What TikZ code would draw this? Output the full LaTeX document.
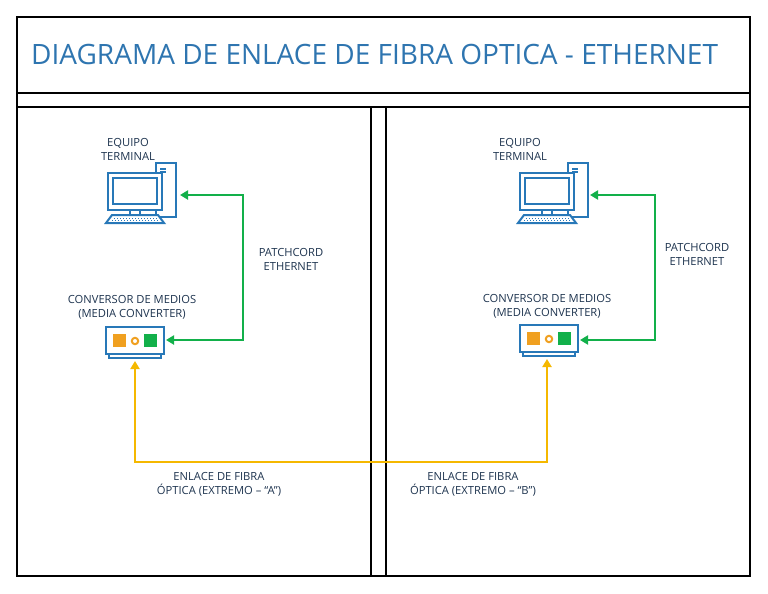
\documentclass[tikz,border=0pt]{standalone}
\usepackage{fontspec}
\setmainfont{Open Sans}
\usetikzlibrary{arrows.meta}
\definecolor{ttl}{HTML}{2E75B0}
\definecolor{txt}{HTML}{1F3550}
\definecolor{ico}{HTML}{2878B8}
\definecolor{grn}{HTML}{12B04A}
\definecolor{ylw}{HTML}{F5B800}
\definecolor{org}{HTML}{F0A020}
\tikzset{x=1pt,y=-1pt,
 lbl/.style={font=\fontsize{11.2}{14}\selectfont,text=txt,align=center,inner sep=0},
 gline/.style={draw=grn,line width=2.5pt,{Triangle[length=8pt,width=9pt]}-{Triangle[length=8pt,width=9pt]}},
 yline/.style={draw=ylw,line width=2.5pt,{Triangle[length=8pt,width=9pt]}-{Triangle[length=8pt,width=9pt]}},
 frame/.style={draw=black,line width=1.6pt}}
\newcommand{\pcicon}[2]{%
 \begin{scope}[shift={(#1,#2)}]
  \draw[ico,line width=2pt,fill=white] (48,0) rectangle (68,54);
  \draw[ico,line width=1.2pt] (52,6)--(58,6) (52,9)--(58,9);
  \draw[ico,line width=2pt,fill=white] (0,10) rectangle (54,47);
  \draw[ico,line width=1.4pt] (5,15) rectangle (49,41);
  \draw[ico,line width=2pt] (22,47)--(22,52) (32,47)--(32,52);
  \draw[ico,line width=2pt,fill=white] (4,52)--(50,52)--(56,60)--(-2,60)--cycle;
  \draw[ico,line width=1pt,dotted] (6,55)--(49,55) (4,57.5)--(52,57.5);
 \end{scope}}
\newcommand{\mcicon}[2]{%
 \begin{scope}[shift={(#1,#2)}]
  \draw[ico,line width=2pt,fill=white] (0,0) rectangle (58,27);
  \draw[ico,line width=2pt] (3,27)--(3,31)--(55,31)--(55,27);
  \fill[org] (7,7) rectangle (20,20);
  \draw[org,line width=2pt] (29,14) circle (3.2pt);
  \fill[grn] (38,7) rectangle (51,20);
 \end{scope}}
\begin{document}
\begin{tikzpicture}
\useasboundingbox (0,0) rectangle (768,594);
\fill[white] (0,0) rectangle (768,594);
\draw[frame] (17,17) rectangle (750,576);
\draw[frame] (17,93)--(750,93) (17,107)--(750,107);
\draw[frame] (371,107)--(371,576) (386,107)--(386,576);
\node[anchor=west,text=ttl,font=\fontsize{28}{32}\selectfont,inner sep=0] (title) at (31,54) {DIAGRAMA DE ENLACE DE FIBRA OPTICA - ETHERNET};
% left
\pcicon{108}{163}
\coordinate (pcA) at (180,195);
\node[lbl] (eqA) at (128,149) {EQUIPO\\TERMINAL};
\mcicon{106}{327}
\coordinate (mcA) at (166,340);
\coordinate (mcAb) at (135,361);
\node[lbl] (cvA) at (132,307) {CONVERSOR DE MEDIOS\\(MEDIA CONVERTER)};
\node[lbl] (pcdA) at (291,259) {PATCHCORD\\ETHERNET};
\draw[gline] (pcA) -| (243,340) -- (mcA);
% right
\pcicon{520}{163}
\coordinate (pcB) at (590,195);
\node[lbl] (eqB) at (520,149) {EQUIPO\\TERMINAL};
\mcicon{520}{325}
\coordinate (mcB) at (580,340);
\coordinate (mcBb) at (547,359);
\node[lbl] (cvB) at (547,306) {CONVERSOR DE MEDIOS\\(MEDIA CONVERTER)};
\node[lbl] (pcdB) at (697,254) {PATCHCORD\\ETHERNET};
\draw[gline] (pcB) -| (655,340) -- (mcB);
% fiber
\draw[yline] (mcAb) |- (547,462) -- (mcBb);
\node[lbl] (fA) at (219,484) {ENLACE DE FIBRA\\ÓPTICA (EXTREMO – ``A'')};
\node[lbl] (fB) at (473,484) {ENLACE DE FIBRA\\ÓPTICA (EXTREMO – ``B'')};
\end{tikzpicture}
\end{document}
